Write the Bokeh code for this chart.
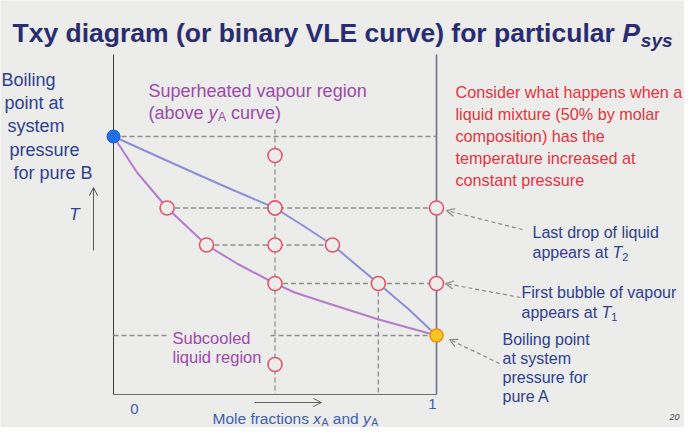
from bokeh.plotting import figure
from bokeh.models import Label, Arrow, OpenHead
from bokeh.embed import file_html
from bokeh.resources import INLINE

# ---------------- data ----------------
x_B, T_B = 0.0, 111.6          # pure B boiling point
x_A, T_A = 1.0, 71.8           # pure A boiling point
T_axis, T_top = 60.0, 128.0    # bottom axis and top of the frame lines

# dew-point (y_A) curve
dew_y = [0.0, 0.178, 0.327, 0.5, 0.589, 0.678, 0.82, 0.913, 1.0]
dew_T = [111.6, 106.4, 102.1, 97.3, 93.7, 89.9, 82.2, 77.1, 71.8]
# bubble-point (x_A) curve
bub_x = [0.0, 0.073, 0.166, 0.288, 0.385, 0.5, 0.561, 0.656, 0.816, 1.0]
bub_T = [111.6, 104.4, 97.3, 89.9, 86.1, 82.2, 80.4, 78.4, 75.1, 71.8]

# tie lines: T2, intermediate, T1
tie_T = [97.3, 89.9, 82.2]
tie_x = [0.166, 0.288, 0.5]
tie_y = [0.5, 0.678, 0.82]
tie_end = [1.0, 0.678, 1.0]

# heating path of the 50 % mixture
path_x = 0.5
path_T = [107.8, 97.3, 89.9, 82.2, 66.0]
path_top = 113.0

x_ticks = [0.0, 1.0]
x_tick_labels = ["0", "1"]

# ---------------- layout helpers ----------------
FONT = "Liberation Sans"
X0, SX = 121.0, 323.0       # window px of x=0, px per unit
Y0, SY = 402.0, 5.0         # window py of T=60, px per unit


def X(px):
    return (px - X0) / SX


def Y(py):
    return 60.0 + (Y0 - py) / SY


REG = {}
for ch, w in [(' ', 278), ('(', 333), (')', 333), ('%', 889), ('.', 278),
              ('a', 556), ('b', 556), ('c', 500), ('d', 556), ('e', 556), ('f', 278),
              ('g', 556), ('h', 556), ('i', 222), ('j', 222), ('k', 500), ('l', 222),
              ('m', 833), ('n', 556), ('o', 556), ('p', 556), ('q', 556), ('r', 333),
              ('s', 500), ('t', 278), ('u', 556), ('v', 500), ('w', 722), ('x', 500),
              ('y', 500), ('z', 500), ('A', 667), ('B', 667), ('C', 722), ('E', 667),
              ('L', 556), ('M', 833), ('P', 667), ('S', 667), ('T', 611), ('V', 667)]:
    REG[ch] = w
BOLD = dict(REG)
BOLD.update({'b': 611, 'd': 611, 'f': 333, 'g': 611, 'h': 611, 'i': 278, 'l': 278,
             'm': 889, 'n': 611, 'o': 611, 'p': 611, 'r': 389, 's': 556, 't': 333,
             'u': 611, 'v': 556, 'x': 556, 'y': 556, 'c': 556, 'L': 611, 'B': 722})


def tw(s, size, bold=False):
    tbl = BOLD if bold else REG
    return sum(tbl.get(c, 556) for c in s) * size / 1000.0


p = figure(width=684, height=427, output_backend="svg", toolbar_location=None,
           x_range=((8 - X0) / SX, (692 - X0) / SX),
           y_range=(Y(435), Y(8)),
           x_axis_location=None, y_axis_location=None, min_border=0,
           background_fill_color="#ececea", border_fill_color="#ececea")
p.outline_line_color = None
p.xgrid.visible = False
p.ygrid.visible = False


def lab(px, py, text, size, color, style="normal", align="left", baseline="alphabetic"):
    p.add_layout(Label(x=X(px), y=Y(py), text=text, text_font=FONT,
                       text_font_size=f"{size}px", text_color=color,
                       text_font_style=style, text_align=align,
                       text_baseline=baseline))


def runs(px, py, parts, color):
    off = 0.0
    for text, size, style, dy, gap in parts:
        bold = "bold" in style
        lead = len(text) - len(text.lstrip(" "))
        off += tw(" " * lead, size, bold)
        body = text.strip(" ")
        p.add_layout(Label(x=X(px), y=Y(py), x_offset=off, y_offset=-dy, text=body,
                           text_font=FONT, text_font_size=f"{size}px",
                           text_color=color, text_font_style=style,
                           text_baseline="alphabetic"))
        off += tw(text.lstrip(" "), size, bold) + gap


# ---------------- frame lines ----------------
p.segment(x0=[x_B], y0=[T_axis], x1=[x_B], y1=[T_top], line_color="#3c3c3c", line_width=1)
p.segment(x0=[x_A], y0=[T_axis], x1=[x_A], y1=[T_top], line_color="#6d7184", line_width=1.6)
p.segment(x0=[x_B], y0=[T_axis], x1=[x_A], y1=[T_axis], line_color="#707070", line_width=1.2)

# ---------------- dashed guide lines ----------------
dash = dict(line_color="#8e8e8e", line_width=1.3, line_dash="5 3")
p.segment(x0=[x_B], y0=[T_B], x1=[x_A], y1=[T_B], **dash)
p.segment(x0=tie_x, y0=tie_T, x1=tie_end, y1=tie_T, **dash)
p.segment(x0=[x_B, 0.486], y0=[T_A, T_A], x1=[0.173, x_A], y1=[T_A, T_A], **dash)
p.segment(x0=[path_x], y0=[path_top], x1=[path_x], y1=[T_axis], **dash)
p.segment(x0=[tie_y[2]], y0=[tie_T[2]], x1=[tie_y[2]], y1=[T_axis], **dash)

# ---------------- curves ----------------
p.line(dew_y, dew_T, line_color="#8b8fd6", line_width=2)
p.line(bub_x, bub_T, line_color="#b57ccd", line_width=2)

# ---------------- state points ----------------
ring = dict(size=14, line_color="#e0566c", line_width=1.6, fill_color="#ececea")
p.scatter([path_x] * len(path_T), path_T, **ring)
p.scatter(tie_x[:2], tie_T[:2], **ring)
p.scatter(tie_y, tie_T, **ring)
p.scatter([x_A, x_A], [tie_T[0], tie_T[2]], **ring)
p.scatter([x_B], [T_B], size=13, fill_color="#1f6fe6", line_color="#1a5cc8", line_width=1)
p.scatter([x_A], [T_A], size=13, fill_color="#f8c620", line_color="#e8901a", line_width=1.5)

# ---------------- arrows ----------------
ad = dict(line_color="#8a8a8a", line_width=1.2, line_dash="4 3")
for (sx, sy, ex, ey) in [(530, 237, 454, 218), (528, 305, 453, 291), (507, 371, 457, 347)]:
    p.add_layout(Arrow(end=OpenHead(size=8, line_color="#8a8a8a", line_width=1.2),
                       x_start=X(sx), y_start=Y(sy), x_end=X(ex), y_end=Y(ey), **ad))
p.add_layout(Arrow(end=OpenHead(size=8, line_color="#555555", line_width=1),
                   x_start=X(101), y_start=Y(258), x_end=X(101), y_end=Y(195),
                   line_color="#555555", line_width=1))
p.add_layout(Arrow(end=OpenHead(size=8, line_color="#666666", line_width=1),
                   x_start=X(262), y_start=Y(410), x_end=X(329), y_end=Y(410),
                   line_color="#666666", line_width=1))

# ---------------- texts ----------------
TITLE = "#2a2c72"
NAVY = "#2f3f92"
PURPLE = "#9c4aab"
RED = "#e23440"
BLUE = "#3d5fb0"

runs(20, 40, [("Txy diagram (or binary VLE curve) for particular ", 26.5, "bold", 0, 0),
              ("P", 26.5, "bold italic", 0, 1), ("sys", 19, "bold italic", 8, 0)], TITLE)

for (lx, ly, t) in [(9, 87, "Boiling"), (12, 110, "point at"), (15, 133, "system"),
                    (17, 157, "pressure"), (21, 180, "for pure B")]:
    lab(lx, ly, t, 18, NAVY)
lab(82, 222, "T", 17, NAVY, style="italic", align="center", baseline="middle")

lab(156, 98, "Superheated vapour region", 18, PURPLE)
runs(156, 120, [("(above ", 18, "normal", 0, 0), ("y", 18, "italic", 0, 0.5),
                ("A", 12, "normal", 4, 0), (" curve)", 18, "normal", 0, 0)], PURPLE)

for i, t in enumerate(["Consider what happens when a", "liquid mixture (50% by molar",
                       "composition) has the", "temperature increased at",
                       "constant pressure"]):
    lab(463, 99 + i * 22, t, 16.2, RED)

lab(540, 240, "Last drop of liquid", 16, NAVY)
runs(540, 260, [("appears at ", 16, "normal", 0, 0), ("T", 16, "italic", 0, 0),
                ("2", 11, "normal", 4, 0)], NAVY)
lab(529, 300, "First bubble of vapour", 16, NAVY)
runs(529, 320, [("appears at ", 16, "normal", 0, 0), ("T", 16, "italic", 0, 0),
                ("1", 11, "normal", 4, 0)], NAVY)
for i, t in enumerate(["Boiling point", "at system", "pressure for", "pure A"]):
    lab(510, 347 + i * 19, t, 16, NAVY)

lab(180, 345, "Subcooled", 16.5, PURPLE)
lab(180, 364, "liquid region", 16.5, PURPLE)

for xt, tl, ty in zip(x_ticks, x_tick_labels, [416, 411]):
    lab(X0 + xt * SX + (21 if xt == 0 else -4), ty, tl, 15, BLUE, align="center", baseline="middle")

runs(220, 426, [("Mole fractions ", 15.5, "normal", 0, 0), ("x", 15.5, "italic", 0, 0.5),
                ("A", 10.5, "normal", 3, 0), (" and ", 15.5, "normal", 0, 0),
                ("y", 15.5, "italic", 0, 0.5), ("A", 10.5, "normal", 3, 0)], BLUE)

lab(682, 424, "20", 9, "#444444", style="italic", align="center", baseline="middle")

open("out.html", "w").write(file_html(p, INLINE))
